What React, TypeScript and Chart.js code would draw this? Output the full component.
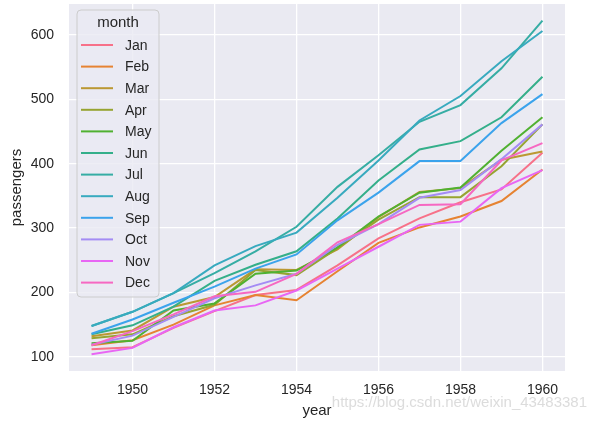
import React, { useEffect, useRef } from "react";
import { Chart, registerables } from "chart.js";

Chart.register(...registerables);

const years = [1949, 1950, 1951, 1952, 1953, 1954, 1955, 1956, 1957, 1958, 1959, 1960];
const months = ["Jan", "Feb", "Mar", "Apr", "May", "Jun", "Jul", "Aug", "Sep", "Oct", "Nov", "Dec"];
const jan = [112, 115, 145, 171, 196, 204, 242, 284, 315, 340, 360, 417];
const feb = [118, 126, 150, 180, 196, 188, 233, 277, 301, 318, 342, 391];
const mar = [132, 141, 178, 193, 236, 235, 267, 317, 356, 362, 406, 419];
const apr = [129, 135, 163, 181, 235, 227, 269, 313, 348, 348, 396, 461];
const may = [121, 125, 172, 183, 229, 234, 270, 318, 355, 363, 420, 472];
const jun = [135, 149, 178, 218, 243, 264, 315, 374, 422, 435, 472, 535];
const jul = [148, 170, 199, 230, 264, 302, 364, 413, 465, 491, 548, 622];
const aug = [148, 170, 199, 242, 272, 293, 347, 405, 467, 505, 559, 606];
const sep = [136, 158, 184, 209, 237, 259, 312, 355, 404, 404, 463, 508];
const oct = [119, 133, 162, 191, 211, 229, 274, 306, 347, 359, 407, 461];
const nov = [104, 114, 146, 172, 180, 203, 237, 271, 305, 310, 362, 390];
const dec = [118, 140, 166, 194, 201, 229, 278, 306, 336, 337, 405, 432];
const series = [jan, feb, mar, apr, may, jun, jul, aug, sep, oct, nov, dec];
const colors = [
  "#f77189", "#e68332", "#bb9832", "#97a431", "#50b131", "#34af8a",
  "#36ada4", "#38aabf", "#3ba3ec", "#a48cf4", "#e866f4", "#f668c2",
];
const xTicks = [1950, 1952, 1954, 1956, 1958, 1960];
const yTicks = [100, 200, 300, 400, 500, 600];
const legendTitle = "month";
const xTitle = "year";
const yTitle = "passengers";
const watermark = "https://blog.csdn.net/weixin_43483381";

const FONT = "'Liberation Sans', Arial, sans-serif";
const TEXT = "#262626";

const legendPlugin = {
  id: "sbLegend",
  afterDatasetsDraw(chart: any) {
    const ctx = chart.ctx;
    ctx.save();
    const bx = 77, by = 10, bw = 82, bh = 287, r = 4;
    ctx.beginPath();
    ctx.moveTo(bx + r, by);
    ctx.arcTo(bx + bw, by, bx + bw, by + bh, r);
    ctx.arcTo(bx + bw, by + bh, bx, by + bh, r);
    ctx.arcTo(bx, by + bh, bx, by, r);
    ctx.arcTo(bx, by, bx + bw, by, r);
    ctx.closePath();
    ctx.fillStyle = "rgba(234,234,242,0.8)";
    ctx.fill();
    ctx.strokeStyle = "#cccccc";
    ctx.lineWidth = 1;
    ctx.stroke();
    ctx.fillStyle = TEXT;
    ctx.textBaseline = "middle";
    ctx.textAlign = "center";
    ctx.font = `15px ${FONT}`;
    ctx.fillText(legendTitle, bx + bw / 2, 23);
    ctx.font = `14px ${FONT}`;
    ctx.textAlign = "left";
    chart.data.datasets.forEach((ds: any, i: number) => {
      const y = 45 + i * 21.6;
      ctx.strokeStyle = ds.borderColor;
      ctx.lineWidth = 2;
      ctx.beginPath();
      ctx.moveTo(81, y);
      ctx.lineTo(113, y);
      ctx.stroke();
      ctx.fillStyle = TEXT;
      ctx.fillText(ds.label, 125, y + 1);
    });
    ctx.restore();
  },
  afterDraw(chart: any) {
    const ctx = chart.ctx;
    ctx.save();
    ctx.font = `15px ${FONT}`;
    ctx.textAlign = "right";
    ctx.textBaseline = "middle";
    ctx.fillStyle = "rgba(205,205,205,0.7)";
    ctx.fillText(watermark, 587, 403);
    ctx.restore();
  },
};

export default function App() {
  const ref = useRef<HTMLCanvasElement>(null);
  useEffect(() => {
    document.body.style.margin = "0";
    const chart = new Chart(ref.current as HTMLCanvasElement, {
      type: "line",
      data: {
        datasets: series.map((vals, i) => ({
          label: months[i],
          data: years.map((yr, j) => ({ x: yr, y: vals[j] })),
          borderColor: colors[i],
          backgroundColor: colors[i],
          borderWidth: 2,
          pointRadius: 0,
          tension: 0,
          order: 11 - i,
        })),
      },
      options: {
        animation: false,
        responsive: false,
        devicePixelRatio: 1,
        layout: { padding: { left: 0, right: 29, top: 4, bottom: 0 } },
        plugins: { legend: { display: false }, tooltip: { enabled: false } },
        scales: {
          x: {
            type: "linear",
            min: 1948.45,
            max: 1960.55,
            afterBuildTicks: (s: any) => { s.ticks = xTicks.map((v) => ({ value: v })); },
            afterFit: (s: any) => { s.height = 50; s.paddingLeft = 0; s.paddingRight = 0; },
            border: { display: false },
            grid: { color: "#ffffff", lineWidth: 1.3, drawTicks: false },
            ticks: {
              padding: 11,
              color: TEXT,
              font: { family: FONT, size: 14 },
              callback: (v: any) => String(v),
            },
            title: {
              display: true,
              text: xTitle,
              color: TEXT,
              font: { family: FONT, size: 15 },
              padding: { top: 0, bottom: 1 },
            },
          },
          y: {
            type: "linear",
            min: 78.1,
            max: 647.9,
            afterBuildTicks: (s: any) => { s.ticks = yTicks.map((v) => ({ value: v })); },
            afterFit: (s: any) => { s.width = 69; s.paddingTop = 0; s.paddingBottom = 0; },
            border: { display: false },
            grid: { color: "#ffffff", lineWidth: 1.3, drawTicks: false },
            ticks: {
              padding: 15,
              color: TEXT,
              font: { family: FONT, size: 14 },
              callback: (v: any) => String(v),
            },
            title: {
              display: true,
              text: yTitle,
              color: TEXT,
              font: { family: FONT, size: 15 },
              padding: { top: 8, bottom: 0 },
            },
          },
        },
      },
      plugins: [
        {
          id: "bg",
          beforeDraw(chart: any) {
            const { ctx, chartArea: a } = chart;
            ctx.save();
            ctx.fillStyle = "#eaeaf2";
            ctx.fillRect(a.left, a.top, a.right - a.left, a.bottom - a.top);
            ctx.restore();
          },
        },
        legendPlugin,
      ],
    } as any);
    return () => chart.destroy();
  }, []);
  return (
    <div style={{ position: "absolute", left: 0, top: 0, width: 594, height: 421, background: "#fff" }}>
      <canvas ref={ref} width={594} height={421} />
    </div>
  );
}
